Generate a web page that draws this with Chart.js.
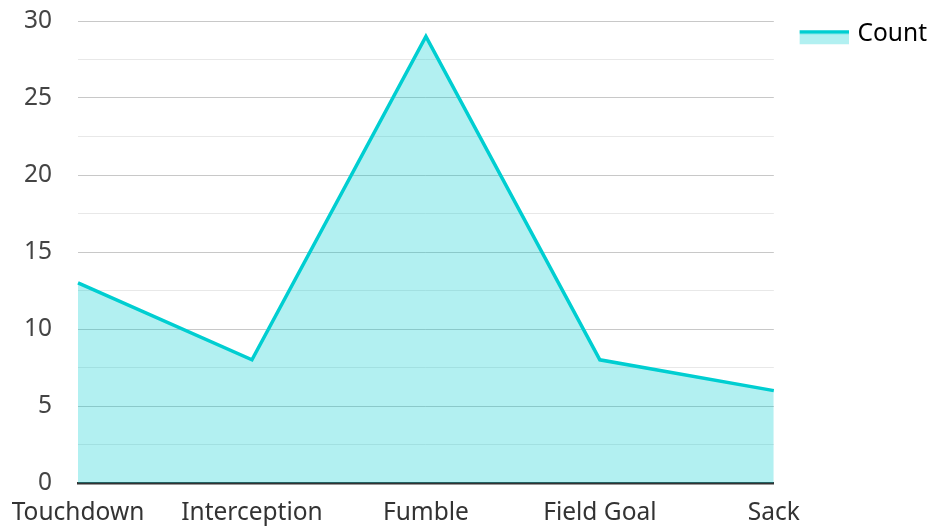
<!DOCTYPE html>
<html>
<head>
<meta charset="utf-8">
<script src="https://cdn.jsdelivr.net/npm/chart.js@4/dist/chart.umd.min.js"></script>
<style>
  html, body { margin: 0; padding: 0; background: #fff; }
  #wrap { width: 930px; height: 526px; position: relative; }
</style>
</head>
<body>
<div id="wrap"><canvas id="c"></canvas></div>
<script>
const categories = ["Touchdown", "Interception", "Fumble", "Field Goal", "Sack"];
const countValues = [13, 8, 29, 8, 6];
const seriesName = "Count";

const lineColor = "#00CED1";
const fillColor = "rgba(0, 206, 209, 0.3)";
const FONT = "'Noto Sans', 'Open Sans', sans-serif";
const FONT_SIZE = 24.5;

// legend swatch: line on top, translucent fill below (with transparent margin for placement)
function makeSwatch() {
  const cv = document.createElement('canvas');
  cv.width = 76; cv.height = 30;
  const ctx = cv.getContext('2d');
  ctx.fillStyle = fillColor;
  ctx.fillRect(27, 14, 49, 11);
  ctx.fillStyle = lineColor;
  ctx.fillRect(27, 11, 49, 3.5);
  return cv;
}
const swatch = makeSwatch();

new Chart(document.getElementById('c'), {
  type: 'line',
  data: {
    labels: categories,
    datasets: [{
      label: seriesName,
      data: countValues,
      borderColor: lineColor,
      backgroundColor: fillColor,
      borderWidth: 3.5,
      fill: 'origin',
      tension: 0,
      pointRadius: 0,
      pointHoverRadius: 0
    }]
  },
  options: {
    responsive: true,
    maintainAspectRatio: false,
    animation: false,
    layout: { padding: { top: 20, right: -7, bottom: 0, left: 0 } },
    plugins: {
      tooltip: { enabled: false },
      legend: {
        position: 'right',
        align: 'start',
        labels: {
          usePointStyle: true,
          pointStyleWidth: 69.5,
          boxHeight: 14,
          padding: 2,
          color: '#222',
          font: { family: FONT, size: FONT_SIZE },
          generateLabels: (chart) => chart.data.datasets.map((ds, i) => ({
            text: ds.label,
            pointStyle: swatch,
            fillStyle: fillColor,
            strokeStyle: lineColor,
            lineWidth: 0,
            hidden: false,
            datasetIndex: i
          }))
        }
      }
    },
    scales: {
      x: {
        offset: false,
        grid: { display: false },
        border: { display: true, color: '#333', width: 2.5 },
        ticks: {
          color: '#333',
          font: { family: FONT, size: FONT_SIZE },
          padding: 7,
          maxRotation: 0,
          autoSkip: false
        },
        afterFit: (s) => { s.height = 43; }
      },
      y: {
        min: 0,
        max: 30,
        grid: {
          drawTicks: false,
          color: (ctx) => {
            const v = ctx.tick ? ctx.tick.value : 0;
            if (v === 0) return 'rgba(0,0,0,0)';
            return (v % 5 === 0) ? '#c8c8c8' : '#e8e8e8';
          },
          lineWidth: 1
        },
        border: { display: false },
        ticks: {
          stepSize: 2.5,
          color: '#444',
          font: { family: FONT, size: FONT_SIZE },
          padding: 26,
          callback: (v) => (v % 5 === 0 ? String(v) : '')
        },
        afterFit: (s) => {
          s.width = 78;
          s.paddingTop = 21;
          s.paddingBottom = 0;
        }
      }
    }
  }
});
</script>
</body>
</html>
